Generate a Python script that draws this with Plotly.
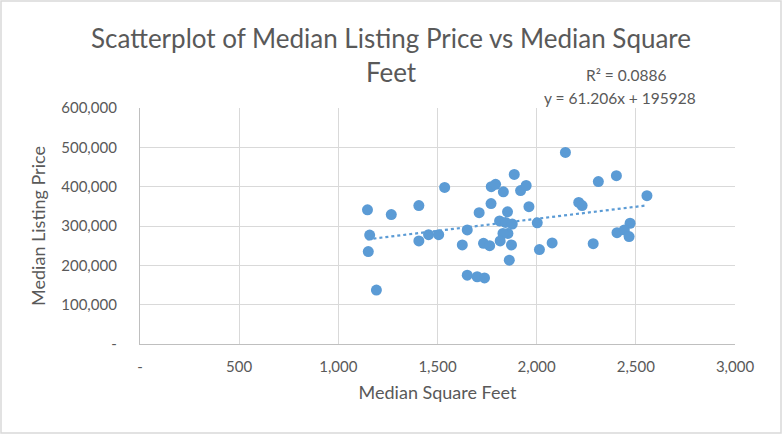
import plotly.graph_objects as go

sqft = [1147, 1158, 1151, 1192, 1267, 1406, 1406, 1455, 1506, 1536,
        1625, 1650, 1650, 1700, 1737, 1710, 1732, 1763, 1770, 1771,
        1793, 1832, 1887, 1919, 1947, 1961, 1853, 1813, 1843, 1877,
        1855, 1830, 1816, 1873, 1862, 2003, 2014, 2078, 2145, 2212,
        2229, 2311, 2402, 2556, 2471, 2405, 2442, 2466, 2285]
price = [341000, 277000, 235000, 137000, 329000, 352000, 262000, 278000, 278000, 398000,
         252000, 290000, 175000, 171000, 168000, 334000, 256000, 250000, 357000, 400000,
         406000, 387000, 431000, 390000, 403000, 349000, 336000, 313000, 309000, 305000,
         281000, 281000, 262000, 252000, 213000, 308000, 240000, 257000, 487000, 360000,
         352000, 413000, 428000, 377000, 307000, 283000, 290000, 273000, 255000]

slope = 61.206
intercept = 195928
r2_text = "R² = 0.0886"
eq_text = "y = 61.206x + 195928"

x_ticks = [0, 500, 1000, 1500, 2000, 2500, 3000]
x_ticktext = ["-", "500", "1,000", "1,500", "2,000", "2,500", "3,000"]
y_ticks = [0, 100000, 200000, 300000, 400000, 500000, 600000]
y_ticktext = ["-", "100,000", "200,000", "300,000", "400,000", "500,000", "600,000"]

title_text = "Scatterplot of Median Listing Price vs Median Square<br>Feet"
x_title = "Median Square Feet"
y_title = "Median Listing Price"

BLUE = "#5b9bd5"
GRAY = "#595959"
FONT = "Lato"

W, H = 782, 434
ml, mr, mt, mb = 140, 47, 108, 90

tx = [min(sqft), max(sqft)]
ty = [slope * v + intercept for v in tx]

fig = go.Figure()
fig.add_trace(go.Scatter(x=tx, y=ty, mode="lines",
                         line=dict(color=BLUE, width=2.2, dash="dot"),
                         hoverinfo="skip", showlegend=False))
fig.add_trace(go.Scatter(x=sqft, y=price, mode="markers",
                         marker=dict(color=BLUE, size=11, line=dict(width=0)),
                         showlegend=False))

fig.update_layout(
    width=W, height=H,
    margin=dict(l=ml, r=mr, t=mt, b=mb),
    paper_bgcolor="white", plot_bgcolor="white",
    font=dict(family=FONT, color=GRAY, size=13),
    xaxis=dict(range=[0, 3000], tickvals=x_ticks, ticktext=x_ticktext,
               showgrid=True, gridcolor="#d9d9d9", gridwidth=1.3,
               zeroline=False, showline=True, linecolor="#bfbfbf", linewidth=1.3,
               ticks="", ticklabelstandoff=9, tickfont=dict(size=15, color=GRAY),
               title=dict(text=x_title, font=dict(size=18, color=GRAY), standoff=12)),
    yaxis=dict(range=[0, 600000], tickvals=y_ticks, ticktext=y_ticktext,
               showgrid=True, gridcolor="#d9d9d9", gridwidth=1.3,
               zeroline=False, showline=True, linecolor="#bfbfbf", linewidth=1.3,
               ticks="", ticklabelstandoff=19, tickfont=dict(size=15, color=GRAY),
               title=dict(text=y_title, font=dict(size=18, color=GRAY), standoff=10)),
)

pw = W - ml - mr
ph = H - mt - mb

fig.add_annotation(text=title_text, xref="paper", yref="paper",
                   x=(W / 2 - ml) / pw, y=1 + (mt - 20) / ph,
                   xanchor="center", yanchor="top", showarrow=False,
                   font=dict(size=26, color=GRAY, family=FONT))
fig.add_annotation(text=r2_text, xref="paper", yref="paper",
                   x=(626 - ml) / pw, y=1 + (mt - 75) / ph,
                   xanchor="center", yanchor="middle", showarrow=False,
                   font=dict(size=15.5, color=GRAY, family=FONT))
fig.add_annotation(text=eq_text, xref="paper", yref="paper",
                   x=(620 - ml) / pw, y=1 + (mt - 98) / ph,
                   xanchor="center", yanchor="middle", showarrow=False,
                   font=dict(size=15.5, color=GRAY, family=FONT))

fig.add_shape(type="rect", xref="paper", yref="paper",
              x0=-(ml - 1) / pw, x1=1 + (mr - 1) / pw,
              y0=-(mb - 1) / ph, y1=1 + (mt - 1) / ph,
              line=dict(color="#d9d9d9", width=1.5), layer="below")

fig.write_html("out.html", config={"displayModeBar": False},
               post_script="document.body.style.margin='0';document.body.style.overflow='hidden';")
